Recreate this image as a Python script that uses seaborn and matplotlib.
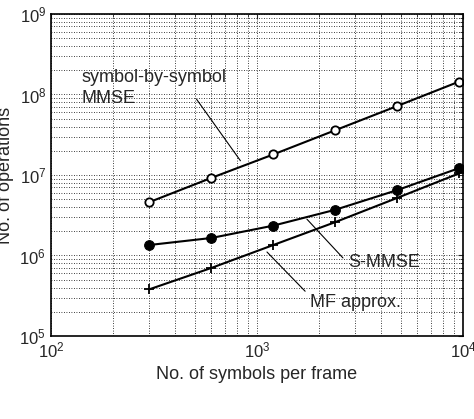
import matplotlib
matplotlib.use("Agg")
import matplotlib.pyplot as plt
import seaborn as sns
import pandas as pd

symbols = [300, 600, 1200, 2400, 4800, 9600]
sbs_mmse = [4.6e6, 9.2e6, 1.8e7, 3.6e7, 7.2e7, 1.45e8]
s_mmse = [1.35e6, 1.65e6, 2.35e6, 3.7e6, 6.5e6, 1.22e7]
mf_approx = [3.8e5, 7.0e5, 1.35e6, 2.6e6, 5.2e6, 1.05e7]

sns.set_style("white")
plt.rcParams['font.family'] = ['Liberation Sans', 'DejaVu Sans']

fig = plt.figure(figsize=(4.74, 4.19), dpi=100)
ax = fig.add_axes([51/474, 1-336/419, 412/474, 322/419])

df = pd.DataFrame({"x": symbols, "a": sbs_mmse, "b": s_mmse, "c": mf_approx})
sns.lineplot(data=df, x="x", y="a", ax=ax, color="black", lw=1.5, marker="o",
             markerfacecolor="white", markeredgecolor="black", markersize=6, markeredgewidth=1.3)
sns.lineplot(data=df, x="x", y="b", ax=ax, color="black", lw=1.5, marker="o",
             markerfacecolor="black", markeredgecolor="black", markersize=7)
sns.lineplot(data=df, x="x", y="c", ax=ax, color="black", lw=1.5, marker="+",
             markeredgecolor="black", markersize=7, markeredgewidth=1.3)

ax.set_xscale("log"); ax.set_yscale("log")
ax.set_xlim(1e2, 1e4); ax.set_ylim(1e5, 1e9)
ax.grid(True, which="both", linestyle=(0, (1, 2)), color="black", lw=0.6)
ax.tick_params(which="both", direction="in", top=True, right=True, labelsize=12)
for s in ax.spines.values():
    s.set_color("black"); s.set_linewidth(1.2)
ax.set_xlabel("No. of symbols per frame", fontsize=13)
ax.set_ylabel("No. of operations", fontsize=13)

kw = dict(arrowprops=dict(arrowstyle="-", color="black", lw=0.8), fontsize=12, va="center")
ax.annotate("", xy=(846, 1.41e7), xytext=(500, 9.3e7), **kw)
ax.text(141, 1.2e8, "symbol-by-symbol\nMMSE", fontsize=13, va="center", linespacing=1.3)
ax.annotate("", xy=(2670, 8.8e5), xytext=(1710, 3.0e6), **kw)
ax.text(2780, 8.1e5, "S-MMSE", fontsize=13, va="center")
ax.annotate("", xy=(1750, 3.4e5), xytext=(1094, 1.17e6), **kw)
ax.text(1800, 2.6e5, "MF approx.", fontsize=13, va="center")

fig.savefig("out.png", dpi=100)
